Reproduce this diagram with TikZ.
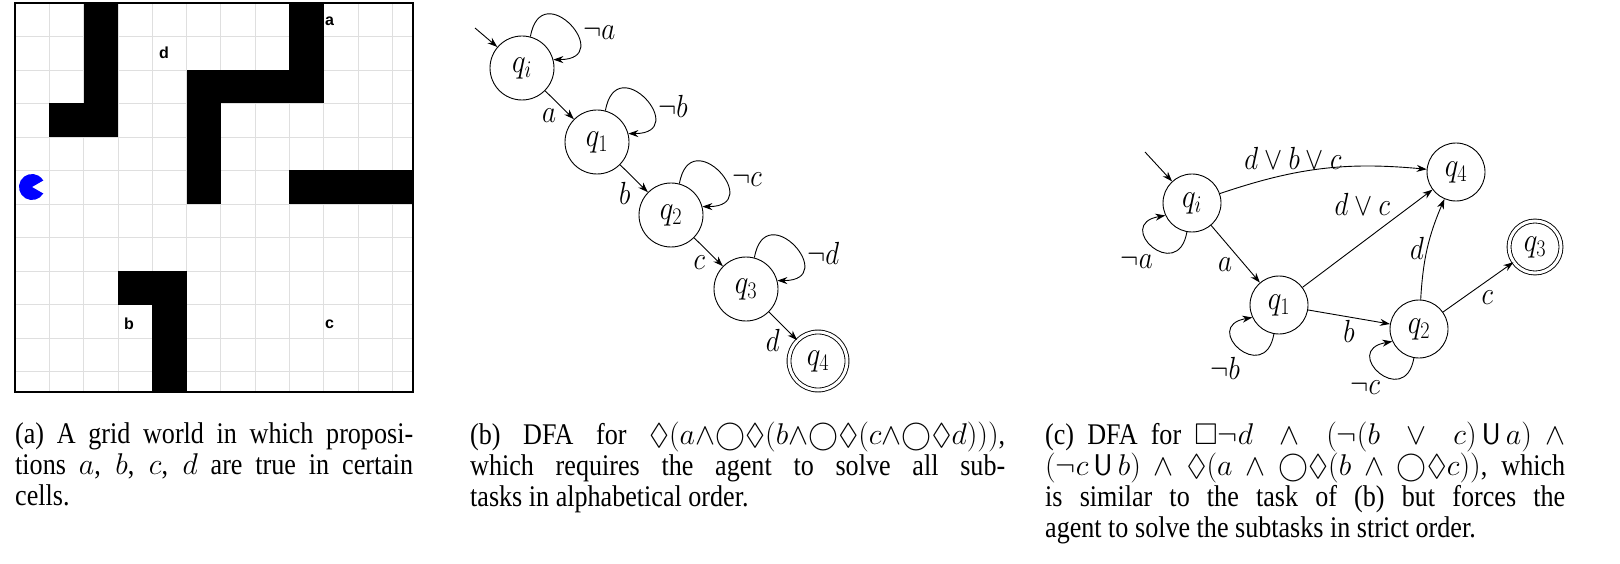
\RequirePackage{fix-cm}
\documentclass[tikz,border=0pt]{standalone}
\usepackage{amssymb}
\usepackage{graphicx}
\usepackage{fontspec}
\setmainfont{Liberation Serif}[FakeStretch=0.87]
\newfontfamily\gridfont{Liberation Sans}
\newcommand{\nq}[1]{\scalebox{0.85}[1]{$#1$}}
\newcommand{\nxt}{\mathord{\bigcirc}}
\usetikzlibrary{arrows.meta}
\begin{document}
\begin{tikzpicture}[x=1pt,y=-1pt,>={Stealth[length=10pt,width=7pt]},
  st/.style={circle,draw,line width=0.9pt,minimum size=64pt,inner sep=0pt,font=\fontsize{34}{34}\selectfont},
  acc/.style={st,double,double distance=3pt,minimum size=58pt},
  lab/.style={font=\fontsize{32}{32}\selectfont,inner sep=3pt},
  ed/.style={->,line width=0.9pt},
  captxt/.style={anchor=north west,align=justify,inner sep=0pt,font=\fontsize{30}{31}\selectfont},
  glab/.style={font=\gridfont\bfseries\fontsize{16}{16}\selectfont}]
\useasboundingbox (0,0) rectangle (1620,564);
% grid
\begin{scope}
\clip (15,3) rectangle (413,392);
\foreach \i in {0,...,12} {
  \draw[gray!25,line width=0.8pt] ({15+34.3*\i},3) -- ({15+34.3*\i},392);
  \draw[gray!25,line width=0.8pt] (15,{3+33.5*\i}) -- (413,{3+33.5*\i});
}
\def\cell#1#2#3#4{\fill[black] ({15+34.3*#1},{3+33.5*#2}) rectangle ({15+34.3*(#3+1)},{3+33.5*(#4+1)});}
\cell{2}{0}{2}{3}
\cell{1}{3}{2}{3}
\cell{8}{0}{8}{2}
\cell{5}{2}{8}{2}
\cell{5}{2}{5}{5}
\cell{8}{5}{12}{5}
\cell{3}{8}{4}{8}
\cell{4}{8}{4}{12}
\end{scope}
\draw[line width=1.2pt] (15,3) rectangle (413,392);
\node[glab] (la) at (329.5,21) {a};
\node[glab] (ld) at (164,53) {d};
\node[glab] (lb) at (129,324) {b};
\node[glab] (lc) at (329.5,324) {c};
\fill[blue] (32,187) -- ++(30:13) arc (30:330:13) -- cycle;
\node[captxt,text width=398pt] (ca) at (15,422) {(a) A grid world in which proposi-\linebreak tions $a$, $b$, $c$, $d$ are true in certain\linebreak cells.};
% DFA b
\node[st] (bi) at (522,68) {\nq{q_i}};
\node[st] (b1) at (597,142) {\nq{q_1}};
\node[st] (b2) at (671,215) {\nq{q_2}};
\node[st] (b3) at (746,289) {\nq{q_3}};
\node[acc] (b4) at (818,361) {\nq{q_4}};
\coordinate (bs) at (475,28);
\draw[ed] (bs) -- (bi);
\draw[ed] (bi) -- node[lab,below left,pos=0.5] {\nq{a}} (b1);
\draw[ed] (b1) -- node[lab,below left,pos=0.5] {\nq{b}} (b2);
\draw[ed] (b2) -- node[lab,below left,pos=0.5] {\nq{c}} (b3);
\draw[ed] (b3) -- node[lab,below left,pos=0.5] {\nq{d}} (b4);
\foreach \n/\l in {bi/a,b1/b,b2/c,b3/d}
  \draw[ed] (\n.75) to[out=80,in=0,looseness=5] node[lab,right,pos=0.45,xshift=14pt,yshift=-12pt] {\nq{\neg \l}} (\n.15);
\node[captxt,text width=535pt] (cb) at (470,422) {(b) DFA for $\Diamond(a{\wedge}\nxt\Diamond(b{\wedge}\nxt\Diamond(c{\wedge}\nxt\Diamond d)))$,\linebreak which requires the agent to solve all sub-\linebreak tasks in alphabetical order.};
% DFA c
\node[st,minimum size=58pt] (ci) at (1192,203) {\nq{q_i}};
\node[st,minimum size=58pt] (c4) at (1456,172) {\nq{q_4}};
\node[st,minimum size=58pt] (c1) at (1279,305) {\nq{q_1}};
\node[st,minimum size=58pt] (c2) at (1419,329) {\nq{q_2}};
\node[acc,minimum size=52pt] (c3) at (1535,247) {\nq{q_3}};
\coordinate (cs) at (1145,152);
\draw[ed] (cs) -- (ci);
\draw[ed] (ci) to[bend left=12] node[lab,above,pos=0.35] {\nq{d\vee b\vee c}} (c4);
\draw[ed] (ci) -- node[lab,below left,pos=0.5] {\nq{a}} (c1);
\draw[ed] (c1) -- node[lab,above left,pos=0.7] {\nq{d\vee c}} (c4);
\draw[ed] (c1) -- node[lab,below,pos=0.5] {\nq{b}} (c2);
\draw[ed] (c2) to[bend left=10] node[lab,left,pos=0.5] {\nq{d}} (c4);
\draw[ed] (c2) -- node[lab,below right,pos=0.5] {\nq{c}} (c3);
\foreach \n/\l in {ci/a,c1/b,c2/c}
  \draw[ed] (\n.260) to[out=260,in=190,looseness=5] node[lab,below left,pos=0.45,yshift=-2pt] {\nq{\neg \l}} (\n.205);
\node[captxt,text width=520pt] (cc) at (1045,422) {(c) DFA for $\Box\neg d\ \wedge\ (\neg(b\ \vee\ c)\,\mathsf{U}\,a)\ \wedge$\linebreak $(\neg c\,\mathsf{U}\,b)\wedge\Diamond(a\wedge\nxt\Diamond(b\wedge\nxt\Diamond c))$, which\linebreak is similar to the task of (b) but forces the\linebreak agent to solve the subtasks in strict order.};
\end{tikzpicture}
\end{document}
